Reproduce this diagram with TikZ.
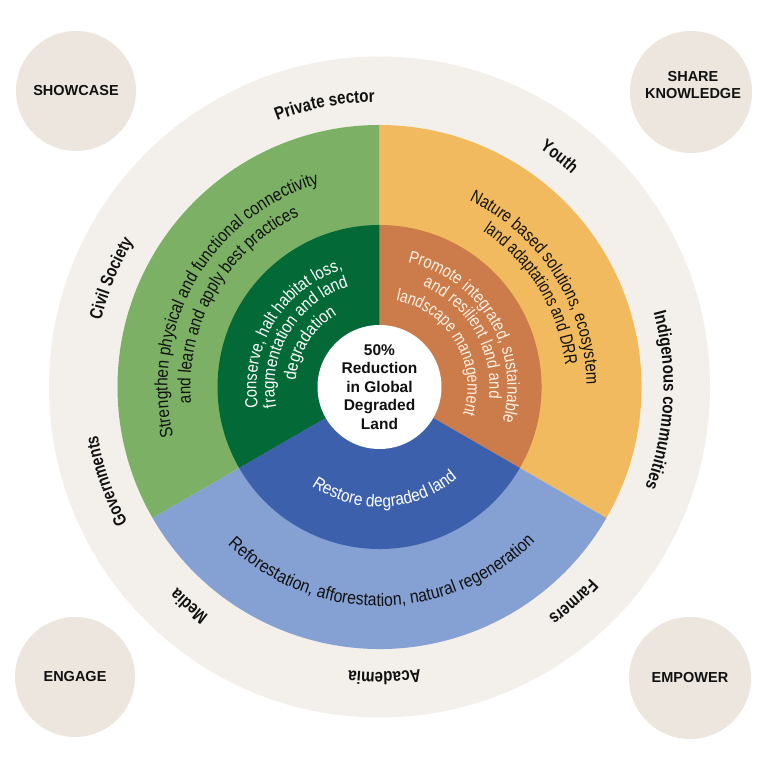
\documentclass[tikz,border=0pt]{standalone}
\usepackage{fontspec}
\usetikzlibrary{decorations.text}
\setmainfont{Liberation Sans}
\newfontfamily\condA[FakeStretch=0.77]{Liberation Sans}
\newfontfamily\condB[FakeStretch=0.80]{Liberation Sans}
\newfontfamily\condC[FakeStretch=0.82]{Liberation Sans}
\newfontfamily\condD[FakeStretch=0.84]{Liberation Sans}
\newfontfamily\condE[FakeStretch=0.86]{Liberation Sans}
\newfontfamily\condF[FakeStretch=0.88]{Liberation Sans}
\definecolor{ringc}{HTML}{F3F0EB}
\definecolor{cornerc}{HTML}{ECE6DF}
\definecolor{greenL}{HTML}{7BB065}
\definecolor{greenD}{HTML}{026937}
\definecolor{yellowL}{HTML}{F1BA5F}
\definecolor{orangeD}{HTML}{CC7B4A}
\definecolor{blueL}{HTML}{85A0D3}
\definecolor{blueD}{HTML}{3D60AC}
\definecolor{inkc}{HTML}{111111}
\newcommand{\sectorfill}[4]{\fill[#1] (0,0) -- (#2:#4 pt) arc[start angle=#2,end angle=#3,radius=#4 pt] -- cycle;}
% clockwise text: tops outward
\newcommand{\cwtext}[4]{\path[decorate,decoration={text along path,text align=center,text={|#3|#4}}] (#1+80:#2 pt) arc[start angle=#1+80,end angle=#1-80,radius=#2 pt];}
% counter-clockwise text: tops inward
\newcommand{\ccwtext}[4]{\path[decorate,decoration={text along path,text align=center,text={|#3|#4}}] (#1-80:#2 pt) arc[start angle=#1-80,end angle=#1+80,radius=#2 pt];}
\newcommand{\darkbody}[1]{\fontsize{18}{20}#1\color{inkc}}
\newcommand{\whitebody}[1]{\fontsize{17.5}{20}#1\color{white}}
\newcommand{\peachbody}[1]{\fontsize{17.5}{20}#1\color{white!90!orange}}
\newcommand{\ringlabel}[1]{\fontsize{18}{20}#1\bfseries\color{inkc}}
\tikzset{
  corner/.style={circle,fill=cornerc,minimum size=#1 pt,inner sep=0pt,align=center,text=inkc,font=\fontsize{14.5}{17.5}\selectfont\bfseries},
  cornertext/.style={inner sep=0pt,align=center,text=inkc,font=\fontsize{14.5}{17.5}\selectfont\bfseries},
  hub/.style={circle,fill=white,minimum size=124pt,inner sep=0pt,align=center,text=inkc,font=\fontsize{15.5}{18.6}\selectfont\bfseries}
}
\begin{document}
\begin{tikzpicture}[x=1pt,y=1pt]
\useasboundingbox (0,0) rectangle (768,768);
\fill[white] (0,0) rectangle (768,768);
\node[corner=120] (showcase) at (76,677) {SHOWCASE};
\node[corner=122] (share) at (691,676) {};
\node[cornertext] (sharetext) at (693,683) {SHARE\\KNOWLEDGE};
\node[corner=120] (engage) at (75,91) {ENGAGE};
\node[corner=122] (empower) at (690,90) {EMPOWER};
\begin{scope}[shift={(379.5,381)}]
\fill[ringc] (0,0) circle[radius=330.5pt];
\sectorfill{greenL}{90}{210}{262}
\sectorfill{yellowL}{-30}{90}{262}
\sectorfill{blueL}{210}{330}{262}
\sectorfill{greenD}{90}{210}{162}
\sectorfill{orangeD}{-30}{90}{162}
\sectorfill{blueD}{210}{330}{162}
\node[hub] (center) at (0,0) {50\%\\Reduction\\in Global\\Degraded\\Land};
% ring labels
\cwtext{101}{285}{\ringlabel\condD}{Private sector}
\cwtext{52}{287}{\ringlabel\condB}{Youth}
\cwtext{-2.7}{284}{\ringlabel\condD}{Indigenous communities}
\cwtext{-48}{285}{\ringlabel\condB}{Farmers}
\cwtext{-89}{285}{\ringlabel\condD}{Academia}
\cwtext{-131}{285}{\ringlabel\condC}{Media}
\cwtext{-161}{286}{\ringlabel\condB}{Governments}
\cwtext{158}{286}{\ringlabel\condB}{Civil Society}
% outer sector text
\cwtext{150}{212}{\darkbody\condE}{Strengthen physical and functional connectivity}
\cwtext{150}{189}{\darkbody\condD}{and learn and apply best practices}
\cwtext{32.5}{207}{\darkbody\condC}{Nature based solutions, ecosystem}
\cwtext{31.5}{187}{\darkbody\condA}{land adaptations and DRR}
\ccwtext{270.7}{219}{\darkbody\condF}{Reforestation, afforestation, natural regeneration}
% inner sector text
\cwtext{148.5}{123}{\whitebody\condD}{Conserve, halt habitat loss,}
\cwtext{149}{105}{\whitebody\condE}{fragmentation and land}
\cwtext{148}{84}{\whitebody\condF}{degradation}
\cwtext{30.7}{128}{\peachbody\condD}{Promote integrated, sustainable}
\cwtext{30.5}{110}{\peachbody\condD}{and resilient land and}
\cwtext{30.5}{88}{\peachbody\condB}{landscape management}
\ccwtext{273}{120}{\whitebody\condF}{Restore degraded land}
\end{scope}
\end{tikzpicture}
\end{document}
